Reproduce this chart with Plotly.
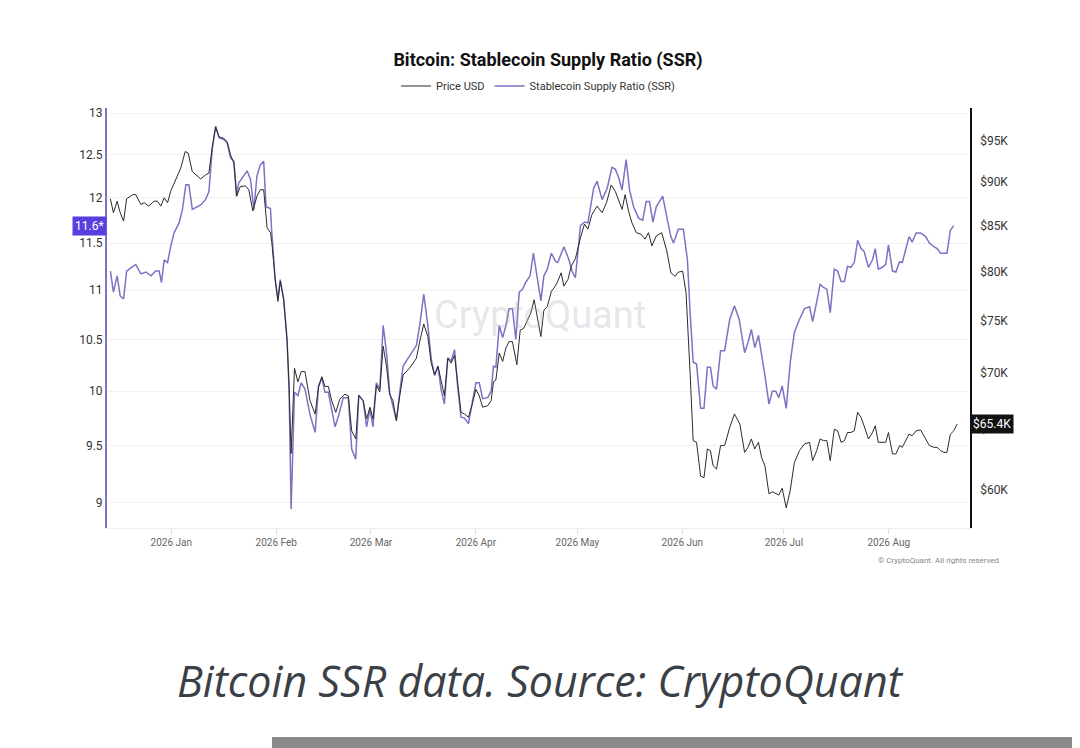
import math
import pandas as pd
import plotly.graph_objects as go

start = pd.Timestamp("2025-12-14")

# SSR series: day offset from start, ratio value
ssr_days = [0, 0.9, 2.0, 2.9, 3.9, 4.8, 6.6, 7.5, 9.0, 10.5, 12.0, 13.4, 14.4, 15.1, 15.9, 16.9, 17.8, 18.8,
            20.3, 21.3, 22.3, 23.2, 24.2, 25.7, 26.7, 28.1, 29.1, 30.1, 31.1, 32.1, 33.5, 34.5, 35.5, 36.5,
            37.3, 37.9, 39.4, 40.4, 41.4, 42.4, 43.3, 44.3, 45.3, 46.0, 47.3, 47.7, 48.7, 49.5, 50.2, 51.2,
            52.2, 52.8, 53.4, 54.4, 55.4, 56.4, 57.5, 59.0, 60.5, 61.5, 62.5, 63.4, 64.4, 65.4, 66.4, 67.5,
            68.8, 70.3, 71.3, 72.5, 73.4, 74.7, 75.7, 76.7, 77.6, 78.6, 79.6, 80.6, 81.6, 82.5, 83.5, 84.5,
            85.5, 86.5, 88.4, 90.4, 91.4, 92.6, 93.8, 94.8, 95.8, 96.8, 97.7, 98.7, 99.7, 100.7, 101.7,
            102.6, 103.6, 104.6, 105.8, 106.8, 108.0, 109.0, 110.0, 111.5, 112.5, 113.2, 113.9, 114.9,
            115.9, 116.9, 117.8, 118.8, 119.8, 120.8, 121.8, 122.7, 124.0, 125.0, 126.0, 127.2, 128.1,
            129.1, 130.3, 131.6, 132.2, 134.0, 135.5, 136.5, 137.4, 138.9, 140.1, 141.1, 142.8, 143.8,
            145.3, 146.8, 148.2, 149.2, 150.2, 151.2, 152.4, 153.4, 154.6, 156.1, 157.3, 158.3, 159.3,
            160.3, 161.3, 163.2, 164.6, 165.6, 166.4, 167.8, 169.3, 170.5, 171.3, 172.2, 173.2, 174.4,
            175.4, 176.4, 177.3, 178.1, 179.1, 180.3, 181.5, 183.0, 184.4, 185.8, 187.4, 188.4, 189.4,
            190.4, 191.5, 192.4, 193.4, 194.6, 195.6, 196.6, 197.5, 198.5, 199.7, 200.9, 202.1, 203.6,
            205.1, 206.6, 207.5, 208.7, 209.7, 210.7, 211.7, 212.7, 213.9, 214.9, 215.9, 216.9, 217.8,
            218.8, 219.8, 220.8, 221.8, 222.7, 224.0, 225.2, 226.0, 226.9, 228.1, 229.1, 229.9, 231.1,
            232.1, 233.2, 234.0, 235.0, 236.0, 236.9, 238.1, 239.4, 240.9, 242.0, 243.3, 244.3, 245.3,
            246.3, 247.2, 248.2, 249.2]
ssr_vals = [11.20, 10.98, 11.15, 10.94, 10.91, 11.20, 11.25, 11.27, 11.17, 11.19, 11.15, 11.20, 11.20, 11.08,
            11.32, 11.29, 11.46, 11.61, 11.72, 11.87, 12.15, 12.15, 11.87, 11.90, 11.92, 11.98, 12.07, 12.56,
            12.84, 12.70, 12.68, 12.64, 12.46, 12.42, 12.02, 12.17, 12.25, 12.31, 12.21, 11.87, 12.25, 12.38,
            12.42, 11.90, 11.88, 11.61, 11.11, 10.91, 11.11, 10.91, 10.50, 10.02, 8.95, 9.99, 9.96, 10.08,
            10.02, 9.78, 9.62, 10.05, 10.13, 9.99, 9.99, 9.81, 9.67, 9.78, 9.94, 9.94, 9.47, 9.38, 9.96, 9.91,
            9.67, 9.83, 9.67, 10.08, 10.02, 10.64, 10.37, 9.99, 9.87, 9.73, 9.99, 10.24, 10.34, 10.44, 10.64,
            10.96, 10.64, 10.31, 10.15, 10.24, 10.02, 9.88, 10.32, 10.29, 10.40, 10.05, 9.76, 9.75, 9.70,
            9.87, 10.08, 10.08, 9.93, 9.94, 10.00, 10.24, 10.23, 10.64, 10.52, 10.64, 10.81, 10.81, 10.50,
            10.98, 11.01, 11.08, 11.15, 11.39, 11.15, 10.89, 11.15, 11.22, 11.39, 11.30, 11.29, 11.46, 11.32,
            11.19, 11.13, 11.69, 11.73, 11.72, 12.11, 12.19, 11.98, 12.11, 12.35, 12.33, 12.23, 12.09, 12.44,
            12.09, 11.90, 11.77, 11.75, 11.96, 11.96, 11.73, 11.90, 12.02, 11.75, 11.57, 11.50, 11.65, 11.65,
            11.32, 10.77, 10.28, 10.26, 9.84, 9.84, 10.23, 10.23, 10.05, 10.02, 10.39, 10.39, 10.70, 10.84,
            10.70, 10.37, 10.47, 10.60, 10.42, 10.54, 10.37, 10.15, 9.88, 10.00, 10.00, 9.94, 10.05, 9.84,
            10.28, 10.57, 10.70, 10.81, 10.83, 10.68, 10.88, 11.06, 11.03, 11.01, 10.77, 11.22, 11.20, 11.09,
            11.09, 11.25, 11.24, 11.29, 11.53, 11.44, 11.41, 11.24, 11.32, 11.44, 11.22, 11.24, 11.27, 11.48,
            11.20, 11.19, 11.30, 11.29, 11.43, 11.57, 11.51, 11.61, 11.61, 11.57, 11.50, 11.46, 11.44, 11.39,
            11.39, 11.39, 11.64, 11.69]

# BTC price (thousand USD)
px_days = [0, 0.9, 2.0, 2.9, 3.9, 4.8, 6.6, 7.5, 9.0, 10.0, 11.3, 12.9, 13.9, 14.9, 15.9, 16.9, 17.8, 19.3,
           20.8, 22.1, 23.0, 24.2, 25.7, 26.7, 28.1, 29.1, 30.1, 31.1, 32.1, 33.5, 34.5, 35.5, 36.5, 37.3,
           38.4, 39.9, 40.9, 42.1, 43.3, 44.3, 45.3, 46.3, 47.3, 47.7, 48.7, 49.5, 50.2, 51.2, 52.2, 52.8,
           53.4, 54.4, 55.4, 56.4, 57.5, 59.0, 60.5, 61.5, 62.5, 63.4, 64.4, 65.4, 66.6, 67.8, 69.3, 70.3,
           71.3, 72.5, 73.4, 74.7, 75.7, 76.7, 77.6, 78.6, 79.6, 80.6, 81.6, 82.5, 83.5, 84.5, 85.5, 86.5,
           88.4, 90.4, 91.4, 92.6, 93.8, 94.8, 95.8, 96.8, 97.7, 98.7, 99.7, 100.7, 101.7, 102.6, 103.6,
           104.6, 105.8, 106.8, 108.0, 109.0, 110.0, 111.5, 112.5, 113.2, 113.9, 114.9, 115.9, 116.9,
           117.8, 118.8, 120.1, 121.1, 122.1, 123.2, 124.2, 125.2, 126.2, 127.2, 128.1, 129.1, 130.3,
           131.1, 132.0, 133.2, 134.0, 135.2, 136.2, 137.4, 138.9, 140.1, 141.1, 142.3, 143.8, 145.3,
           146.6, 148.0, 149.2, 150.2, 151.2, 152.1, 153.1, 154.1, 155.4, 156.8, 158.0, 159.0, 160.0,
           161.3, 162.9, 164.4, 165.6, 166.9, 167.8, 169.1, 170.1, 171.3, 172.2, 173.2, 174.4, 175.4,
           176.4, 177.3, 178.1, 179.1, 180.3, 181.5, 183.0, 184.4, 186.0, 187.4, 188.4, 189.4, 190.4,
           191.5, 192.4, 193.4, 194.6, 195.6, 196.6, 197.5, 198.5, 199.7, 200.9, 202.1, 203.6, 205.1,
           206.6, 207.5, 208.7, 209.7, 210.7, 211.7, 212.7, 213.9, 214.9, 215.9, 216.9, 217.8, 218.8,
           219.8, 220.8, 221.8, 222.7, 224.0, 225.2, 226.0, 226.9, 228.1, 229.1, 229.9, 231.1, 232.1,
           233.2, 234.0, 235.0, 236.0, 236.9, 238.1, 239.4, 240.9, 242.0, 243.3, 244.3, 245.3, 246.3,
           247.2, 248.2, 249.2, 250.2]
px_vals = [88.03, 86.44, 87.76, 86.44, 85.49, 88.03, 88.52, 88.52, 87.39, 87.58, 87.19, 87.76, 87.76, 87.19,
           88.15, 87.58, 88.90, 90.24, 91.67, 93.69, 93.50, 91.25, 90.65, 90.37, 90.85, 91.06, 94.30, 96.75,
           95.52, 95.33, 94.91, 93.29, 92.28, 88.34, 89.47, 89.55, 89.09, 86.63, 88.34, 89.09, 89.09, 84.75,
           84.20, 83.12, 79.17, 76.91, 78.99, 77.08, 73.11, 68.71, 62.95, 70.44, 69.18, 70.12, 70.12, 67.48,
           66.32, 68.71, 69.65, 68.77, 68.77, 67.48, 66.46, 67.63, 68.07, 67.92, 64.86, 64.17, 67.98, 67.48,
           65.88, 66.91, 65.88, 68.87, 68.27, 72.51, 70.60, 68.07, 67.48, 65.73, 67.92, 69.81, 70.44, 71.35,
           72.95, 74.66, 73.43, 70.91, 69.81, 70.60, 69.34, 67.92, 71.35, 70.91, 71.66, 69.34, 66.46, 66.32,
           66.03, 67.05, 68.50, 67.92, 66.91, 67.05, 67.48, 69.18, 69.34, 71.86, 71.07, 72.36, 72.95, 72.95,
           70.76, 74.06, 74.22, 75.00, 75.72, 77.08, 75.35, 73.43, 76.04, 76.39, 77.95, 78.30, 78.82, 79.86,
           78.47, 79.17, 80.59, 81.36, 83.64, 85.16, 84.60, 86.25, 87.19, 86.44, 87.58, 89.66, 88.90, 87.95,
           86.82, 88.52, 86.63, 85.31, 84.20, 84.02, 83.48, 84.20, 82.75, 83.83, 84.20, 82.20, 79.86, 79.51,
           79.93, 80.03, 77.78, 69.97, 64.03, 63.89, 61.11, 60.98, 63.33, 63.19, 61.94, 61.67, 63.61, 63.61,
           65.15, 66.32, 65.44, 63.05, 63.47, 64.17, 63.33, 63.89, 62.64, 61.94, 59.70, 59.86, 59.70, 59.60,
           60.14, 58.60, 60.00, 62.20, 63.19, 63.75, 63.89, 62.36, 63.19, 64.17, 64.03, 64.03, 62.36, 65.00,
           64.86, 63.89, 64.03, 64.72, 64.72, 64.86, 66.46, 66.03, 65.29, 64.17, 64.72, 65.29, 63.89, 63.89,
           63.89, 64.72, 62.92, 62.92, 63.61, 63.47, 64.03, 64.58, 64.44, 64.86, 64.94, 64.17, 63.61, 63.47,
           63.47, 63.19, 63.05, 63.05, 64.58, 64.86, 65.44]

month_ticks = ["2026-01-01", "2026-02-01", "2026-03-01", "2026-04-01", "2026-05-01",
               "2026-06-01", "2026-07-01", "2026-08-01"]
month_labels = ["2026 Jan", "2026 Feb", "2026 Mar", "2026 Apr", "2026 May", "2026 Jun", "2026 Jul", "2026 Aug"]
ssr_ticks = [9, 9.5, 10, 10.5, 11, 11.5, 12, 12.5, 13]
price_ticks = [60000, 65000, 70000, 75000, 80000, 85000, 90000, 95000]
price_labels = ["$60K", "$65K", "$70K", "$75K", "$80K", "$85K", "$90K", "$95K"]

ssr_x = start + pd.to_timedelta(ssr_days, unit="D")
px_x = start + pd.to_timedelta(px_days, unit="D")
price_usd = [v * 1000 for v in px_vals]

PURPLE = "#7d72c4"
font = "Roboto"

# page body adds an 8px offset, so plot box is given in page pixels minus 8
OFF = 8
L, T, R, B = 107 - OFF, 108 - OFF, 970 - OFF, 528 - OFF
W, H = 1080, 748


def px_x_paper(x):
    return (x - OFF - L) / (R - L)


def px_y_paper(y):
    return (B - (y - OFF)) / (B - T)


fig = go.Figure()
fig.add_trace(go.Scatter(x=px_x, y=price_usd, name="Price USD", mode="lines",
                         line=dict(color="#2b2b2b", width=1), yaxis="y2"))
fig.add_trace(go.Scatter(x=ssr_x, y=ssr_vals, name="Stablecoin Supply Ratio (SSR)", mode="lines",
                         line=dict(color=PURPLE, width=1.5)))

fig.update_layout(
    width=W, height=H,
    paper_bgcolor="white", plot_bgcolor="white",
    margin=dict(l=L, r=W - R, t=T, b=H - B),
    font=dict(family=font, color="#333"),
    title=dict(text="<b>Bitcoin: Stablecoin Supply Ratio (SSR)</b>", x=0.5, xanchor="center",
               y=1 - (60 - OFF) / H, yanchor="middle", font=dict(size=18, color="#111")),
    legend=dict(orientation="h", x=0.5, xanchor="center", y=px_y_paper(86), yanchor="middle",
                font=dict(size=11, color="#333"), traceorder="normal"),
    showlegend=True,
    xaxis=dict(range=["2025-12-13", "2026-08-25"], tickvals=month_ticks, ticktext=month_labels,
               showgrid=False, ticks="outside", ticklen=5, tickcolor="#ddd",
               showline=True, linecolor="#eee", tickfont=dict(size=10, color="#666")),
    yaxis=dict(type="log", range=[0.9440, 1.11599], tickvals=ssr_ticks,
               ticktext=[str(t) for t in ssr_ticks], showgrid=True, gridcolor="#f1f1f1",
               showline=True, linecolor=PURPLE, linewidth=2, tickfont=dict(size=12, color="#333"),
               zeroline=False),
    yaxis2=dict(type="log", range=[4.75642, 4.99659], overlaying="y", side="right",
                tickvals=price_ticks, ticktext=price_labels, showgrid=False,
                showline=True, linecolor="#111", linewidth=1.5,
                tickfont=dict(size=12, color="#333"), ticks="", ticklabelstandoff=6),
)

# last value badges
fig.add_annotation(x=0, xref="paper", xanchor="right", y=math.log10(ssr_vals[-1]), yref="y",
                   yanchor="middle", text="11.6*", showarrow=False, bgcolor="#5a3fe0",
                   font=dict(color="white", size=12), borderpad=2)
fig.add_annotation(x=1, xref="paper", xanchor="left", y=math.log10(price_usd[-1]), yref="y2",
                   yanchor="middle", text=f"${px_vals[-1]:.1f}K", showarrow=False,
                   bgcolor="#111", font=dict(color="white", size=12), borderpad=2)

# watermark and footer
fig.add_annotation(x=px_x_paper(540), y=px_y_paper(315), xref="paper", yref="paper", text="CryptoQuant",
                   showarrow=False, font=dict(size=38, color="rgba(170,170,185,0.3)"))
fig.add_annotation(x=px_x_paper(1001), y=px_y_paper(560), xref="paper", yref="paper",
                   text="© CryptoQuant. All rights reserved", showarrow=False, xanchor="right",
                   yanchor="middle", font=dict(size=8, color="#888"))

# caption below the chart
fig.add_annotation(x=px_x_paper(540), y=px_y_paper(680), xref="paper", yref="paper", yanchor="middle",
                   text="<i>Bitcoin SSR data. Source: CryptoQuant</i>", showarrow=False,
                   font=dict(family="Open Sans", size=43, color="#3b4046"))

# grey bar at bottom
fig.add_shape(type="rect", xref="paper", yref="paper", x0=px_x_paper(272), x1=px_x_paper(1090),
              y0=px_y_paper(760), y1=px_y_paper(737), fillcolor="#8a8a8a", line_width=0)

fig.write_html("out.html")
